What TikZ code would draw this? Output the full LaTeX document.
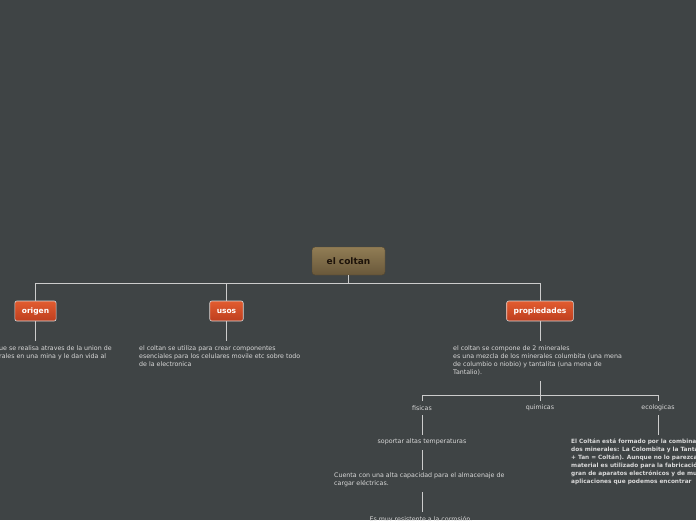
\documentclass[tikz,border=0pt]{standalone}
\usepackage{fontspec}
\setmainfont{DejaVu Sans}
\definecolor{bg}{RGB}{63,68,69}
\definecolor{rtop}{RGB}{145,125,85}
\definecolor{rbot}{RGB}{105,88,58}
\definecolor{otop}{RGB}{226,92,48}
\definecolor{obot}{RGB}{190,62,30}
\begin{document}
\begin{tikzpicture}[x=1pt,y=-1pt,
  ln/.style={draw=black!20,line width=0.9pt},
  rootbox/.style={rounded corners=3pt,draw=rbot!80!black,top color=rtop,bottom color=rbot,minimum width=73pt,minimum height=28pt,text=black!85!brown,font=\bfseries\fontsize{9}{10}\selectfont},
  obox/.style={rounded corners=2pt,draw=white!85!black,line width=0.6pt,top color=otop,bottom color=obot,text=white,font=\bfseries\fontsize{7.5}{8}\selectfont,minimum height=20pt,inner xsep=7pt},
  txt/.style={text=white!85!black,font=\fontsize{6.3}{8}\selectfont,align=left,inner sep=0pt},
  btxt/.style={txt,font=\bfseries\fontsize{5.8}{8}\selectfont}]
\fill[bg] (0,0) rectangle (696,520);
\clip (0,0) rectangle (696,520);
\useasboundingbox (0,0) rectangle (696,520);
\node[rootbox] (root) at (348.5,261) {el coltan};
\node[obox] (orig) at (35.5,311) {origen};
\node[obox] (usos) at (226.5,311) {usos};
\node[obox] (prop) at (540,311) {propiedades};
\coordinate (h) at (348.5,283);
\draw[ln] (root.south) -- (h);
\draw[ln] (35.5,283) -- (540,283);
\draw[ln] (35.5,283) -- (orig.north);
\draw[ln] (226.5,283) -- (usos.north);
\draw[ln] (540,283) -- (prop.north);
\node[txt,anchor=north west] (t1) at (-1,346) {ue se realisa atraves de la union de\\rales en una mina y le dan vida al};
\node[txt,anchor=north west] (t2) at (139,346) {el coltan se utiliza para crear componentes\\esenciales para los celulares movile etc sobre todo\\de la electronica};
\node[txt,anchor=north west] (t3) at (453,346) {el coltan se compone de 2 minerales\\es una mezcla de los minerales columbita (una mena\\de columbio o niobio) y tantalita (una mena de\\Tantalio).};
\draw[ln] (orig.south) -- (35.5,341);
\draw[ln] (usos.south) -- (226.5,341);
\draw[ln] (prop.south) -- (540,341);
\node[txt] (fis) at (422,408) {fisicas};
\node[txt] (qui) at (540,408) {quimicas};
\node[txt] (eco) at (658,408) {ecologicas};
\draw[ln] (540,381) -- (540,395);
\draw[ln] (422,395) -- (658,395);
\draw[ln] (422,395) -- (422,401);
\draw[ln] (540,395) -- (540,401);
\draw[ln] (658,395) -- (658,401);
\node[txt] (sop) at (422,442) {soportar altas temperaturas};
\draw[ln] (422,415) -- (422,435);
\node[txt,anchor=north west] (cue) at (334,473) {Cuenta con una alta capacidad para el almacenaje de\\cargar eléctricas.};
\draw[ln] (422,450) -- (422,470);
\draw[ln] (422,492) -- (422,512);
\node[txt] (es) at (421,520) {Es muy resistente a la corrosión.};
\draw[ln] (658,415) -- (658,435);
\node[btxt,anchor=north west] (el) at (571,439) {El Coltán está formado por la combinación de\\dos minerales: La Colombita y la Tantalita (Col\\+ Tan = Coltán). Aunque no lo parezca, este\\material es utilizado para la fabricación de una\\gran de aparatos electrónicos y de muchas\\aplicaciones que podemos encontrar};
\end{tikzpicture}
\end{document}
